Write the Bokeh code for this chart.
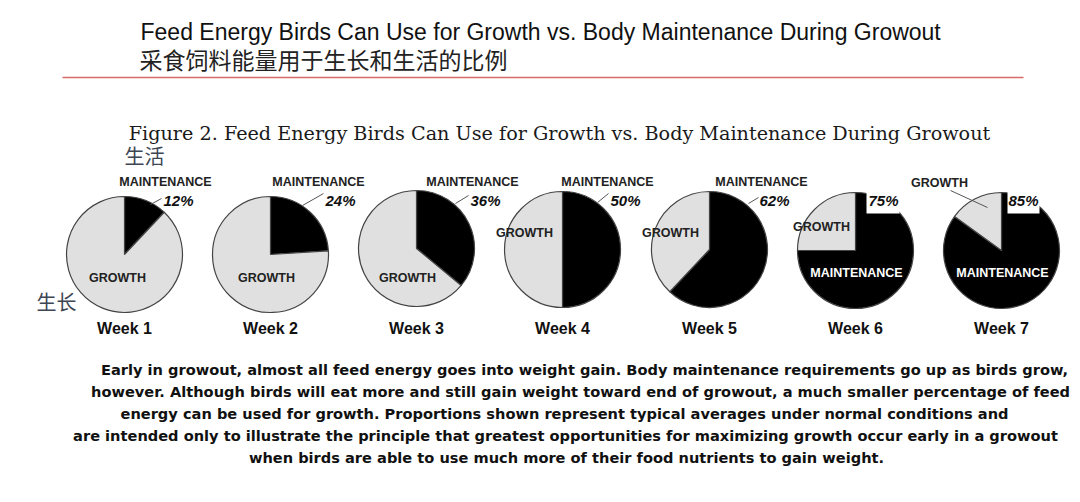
import math
from bokeh.plotting import figure
from bokeh.models import Range1d
from bokeh.core.properties import value
from bokeh.embed import file_html
from bokeh.resources import INLINE

# ---------------- data ----------------
weeks = ["Week 1", "Week 2", "Week 3", "Week 4", "Week 5", "Week 6", "Week 7"]
maintenance_pct = [12, 24, 36, 50, 62, 75, 85]
pct_labels = ["12%", "24%", "36%", "50%", "62%", "75%", "85%"]
header_en = "Feed Energy Birds Can Use for Growth vs. Body Maintenance During Growout"
header_zh = "采食饲料能量用于生长和生活的比例"
caption = "Figure 2. Feed Energy Birds Can Use for Growth vs. Body Maintenance During Growout"
note_lines = [
    "Early in growout, almost all feed energy goes into weight gain. Body maintenance requirements go up as birds grow,",
    "however. Although birds will eat more and still gain weight toward end of growout, a much smaller percentage of feed",
    "energy can be used for growth. Proportions shown represent typical averages under normal conditions and",
    "are intended only to illustrate the principle that greatest opportunities for maximizing growth occur early in a growout",
    "when birds are able to use much more of their food nutrients to gain weight.",
]

# ---------------- layout ----------------
W, H = 1080, 502
def Y(py):
    return H - py

cx = [124, 270, 416, 562, 709, 855, 1001]
cy = [254, 254, 248, 249, 249, 250, 250]
R = 58

p = figure(width=W, height=H, output_backend="svg", toolbar_location=None,
           x_range=Range1d(0, W), y_range=Range1d(0, H), min_border=0)
p.axis.visible = False
p.grid.visible = False
p.outline_line_color = None
p.background_fill_color = "white"
p.border_fill_color = "white"

SANS = value("Liberation Sans")

# header
p.text(x=[140], y=[Y(31)], text=[header_en], text_font=SANS, text_font_size="23px",
       text_color="#111111", text_baseline="middle", text_align="left")
p.text(x=[139], y=[Y(58)], text=[header_zh], text_font=value("Noto Sans CJK SC"),
       text_font_size="23px", text_color="#222222", text_baseline="middle", text_align="left")
p.segment(x0=[62], y0=[Y(77)], x1=[1023], y1=[Y(77)], line_color="#d76b6b", line_width=1.5)

# caption
p.text(x=[559], y=[Y(133)], text=[caption], text_font=value("DejaVu Serif"),
       text_font_size="19.2px", text_color="#1a1a1a", text_baseline="middle", text_align="center")

# chinese annotations
p.text(x=[144, 56], y=[Y(155), Y(301)], text=["生活", "生长"], text_font=value("Noto Sans CJK SC"),
       text_font_size="20px", text_color="#3d4652", text_baseline="middle", text_align="center")

# pies
xs, ys = [], []
for i, m in enumerate(maintenance_pct):
    xs.append(cx[i]); ys.append(Y(cy[i]))
start = [math.pi / 2] * 7
mid = [math.pi / 2 - m / 100 * 2 * math.pi for m in maintenance_pct]
p.wedge(x=xs, y=ys, radius=R, start_angle=mid, end_angle=start, direction="anticlock",
        fill_color="black", line_color="#444444", line_width=1.2)
p.wedge(x=xs, y=ys, radius=R, start_angle=start, end_angle=mid, direction="anticlock",
        fill_color="#e0e0e0", line_color="#444444", line_width=1.2)

# white boxes behind 75% and 85%
p.quad(left=[866, 1007], right=[899, 1039], top=[Y(191), Y(191)], bottom=[Y(213), Y(213)],
       fill_color="white", line_color=None)

# leader lines
lx0 = [150, 302, 455, 597, 748]
ly0 = [204, 205, 203, 202, 203]
lx1 = [161, 323, 468, 608, 758]
ly1 = [198, 193, 195, 193, 197]
p.segment(x0=lx0, y0=[Y(v) for v in ly0], x1=lx1, y1=[Y(v) for v in ly1],
          line_color="#555555", line_width=1)
p.segment(x0=[950], y0=[Y(190)], x1=[987], y1=[Y(207)], line_color="#555555", line_width=1)

# MAINTENANCE labels above
mx = [165, 318, 472, 607, 761]
p.text(x=mx, y=[Y(181)] * 5, text=["MAINTENANCE"] * 5, text_font=SANS, text_font_style="bold",
       text_font_size="12.5px", text_color="#222222", text_baseline="middle", text_align="center")
# MAINTENANCE labels inside (white)
p.text(x=[856, 1002], y=[Y(272), Y(272)], text=["MAINTENANCE"] * 2, text_font=SANS,
       text_font_style="bold", text_font_size="12.5px", text_color="white",
       text_baseline="middle", text_align="center")
# GROWTH labels
gx = [117, 266, 407, 524, 670, 821, 939]
gy = [277, 277, 277, 232, 232, 226, 182]
p.text(x=gx, y=[Y(v) for v in gy], text=["GROWTH"] * 7, text_font=SANS, text_font_style="bold",
       text_font_size="12.5px", text_color="#222222", text_baseline="middle", text_align="center")

# percent labels
px_ = [178, 340, 485, 625, 774, 883, 1023]
p.text(x=px_, y=[Y(200)] * 7, text=pct_labels, text_font=SANS, text_font_style="bold italic",
       text_font_size="15px", text_color="#111111", text_baseline="middle", text_align="center")

# week labels
p.text(x=cx, y=[Y(328)] * 7, text=weeks, text_font=SANS, text_font_style="bold",
       text_font_size="16px", text_color="#111111", text_baseline="middle", text_align="center")

# note text
nx = [584, 580, 564, 565, 566]
ny = [369, 391, 413, 435, 457]
p.text(x=nx, y=[Y(v) for v in ny], text=note_lines, text_font=value("DejaVu Sans"),
       text_font_style="bold", text_font_size="14.6px", text_color="#111111",
       text_baseline="middle", text_align="center")

open("out.html", "w").write(file_html(p, INLINE))
